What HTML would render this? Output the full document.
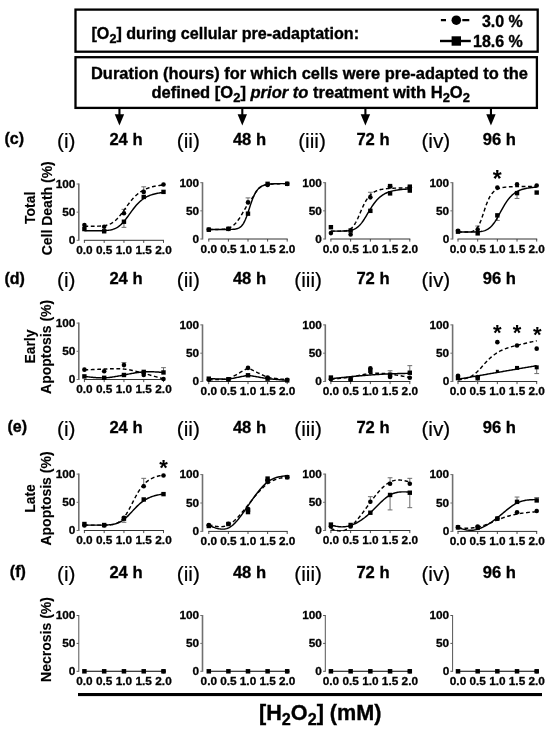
<!DOCTYPE html>
<html><head><meta charset="utf-8"><title>Figure</title>
<style>
html,body{margin:0;padding:0;background:#fff}
svg{display:block}
text{font-family:"Liberation Sans", sans-serif;fill:#000}
.tk{font-size:11.8px;font-weight:bold;stroke:#000;stroke-width:0.3px}
.b16{font-size:16px;font-weight:bold;stroke:#000;stroke-width:0.35px}
.b17{font-size:16.6px;font-weight:bold;stroke:#000;stroke-width:0.3px}
.b14{font-size:14px;font-weight:bold;stroke:#000;stroke-width:0.15px}
.b135{font-size:13.9px;font-weight:bold;stroke:#000;stroke-width:0.15px}
.b22{font-size:22px;font-weight:bold;stroke:#000;stroke-width:0.35px}
.r20{font-size:20.8px;stroke:#000;stroke-width:0.2px}
.sub{font-size:12.5px}
.sub22{font-size:16.5px}
</style></head><body>
<svg width="550" height="730" viewBox="0 0 550 730">
<rect width="550" height="730" fill="#fff"/>
<rect x="75.5" y="9.6" width="462.2" height="42.1" fill="#fff" stroke="#000" stroke-width="2.3"/>
<rect x="75.5" y="57.2" width="461.4" height="50.7" fill="#fff" stroke="#000" stroke-width="2.3"/>
<text x="91.5" y="39.0" class="b16" textLength="267.5" lengthAdjust="spacingAndGlyphs">[O<tspan class="sub" dy="3.5">2</tspan><tspan dy="-3.5">] during cellular pre-adaptation:</tspan></text>
<path d="M440.9,20.1 H446 M462.3,20.1 H469.3" stroke="#000" stroke-width="2.3"/>
<circle cx="456.3" cy="20.2" r="4.75" fill="#000"/>
<path d="M440,41 H470.8" stroke="#000" stroke-width="2.4"/>
<rect x="451.6" y="36.3" width="9.4" height="9.4" fill="#000"/>
<text x="522.8" y="26.7" text-anchor="end" class="b16">3.0 %</text>
<text x="522.8" y="46.7" text-anchor="end" class="b16">18.6 %</text>
<text x="91" y="78.6" class="b16" textLength="437" lengthAdjust="spacingAndGlyphs">Duration (hours) for which cells were pre-adapted to the</text>
<text x="151.4" y="98.3" class="b16" textLength="318.5" lengthAdjust="spacingAndGlyphs">defined [O<tspan class="sub" dy="3.5">2</tspan><tspan dy="-3.5">] </tspan><tspan font-style="italic">prior to</tspan> treatment with H<tspan class="sub" dy="3.5">2</tspan><tspan dy="-3.5">O</tspan><tspan class="sub" dy="3.5">2</tspan></text>
<path d="M119.45,108 V116" stroke="#000" stroke-width="2.1"/>
<path d="M114.75,114.2 H124.15 L119.45,125.6 Z" fill="#000"/>
<path d="M242.3,108 V116" stroke="#000" stroke-width="2.1"/>
<path d="M237.60000000000002,114.2 H247.0 L242.3,125.6 Z" fill="#000"/>
<path d="M365.4,108 V116" stroke="#000" stroke-width="2.1"/>
<path d="M360.7,114.2 H370.09999999999997 L365.4,125.6 Z" fill="#000"/>
<path d="M490.95,108 V116" stroke="#000" stroke-width="2.1"/>
<path d="M486.25,114.2 H495.65 L490.95,125.6 Z" fill="#000"/>
<text x="4.5" y="144.2" class="b16">(c)</text>
<text x="57.0" y="148.0" class="r20">(i)</text>
<text x="176.8" y="148.0" class="r20">(ii)</text>
<text x="298.2" y="148.0" class="r20">(iii)</text>
<text x="421.4" y="148.0" class="r20">(iv)</text>
<text x="126.0" y="145.2" text-anchor="middle" class="b17">24 h</text>
<text x="249.5" y="145.2" text-anchor="middle" class="b17">48 h</text>
<text x="373.0" y="145.2" text-anchor="middle" class="b17">72 h</text>
<text x="499.3" y="145.2" text-anchor="middle" class="b17">96 h</text>
<text x="4.5" y="283.5" class="b16">(d)</text>
<text x="57.0" y="286.8" class="r20">(i)</text>
<text x="176.8" y="286.8" class="r20">(ii)</text>
<text x="294.3" y="286.8" class="r20">(iii)</text>
<text x="421.4" y="286.8" class="r20">(iv)</text>
<text x="126.0" y="284.2" text-anchor="middle" class="b17">24 h</text>
<text x="249.5" y="284.2" text-anchor="middle" class="b17">48 h</text>
<text x="373.0" y="284.2" text-anchor="middle" class="b17">72 h</text>
<text x="499.3" y="284.2" text-anchor="middle" class="b17">96 h</text>
<text x="7.5" y="431.8" class="b16">(e)</text>
<text x="57.0" y="436.0" class="r20">(i)</text>
<text x="176.8" y="436.0" class="r20">(ii)</text>
<text x="294.3" y="436.0" class="r20">(iii)</text>
<text x="421.4" y="436.0" class="r20">(iv)</text>
<text x="126.0" y="433.0" text-anchor="middle" class="b17">24 h</text>
<text x="249.5" y="433.0" text-anchor="middle" class="b17">48 h</text>
<text x="373.0" y="433.0" text-anchor="middle" class="b17">72 h</text>
<text x="499.3" y="433.0" text-anchor="middle" class="b17">96 h</text>
<text x="9.8" y="577.2" class="b16">(f)</text>
<text x="57.0" y="581.4" class="r20">(i)</text>
<text x="176.8" y="581.4" class="r20">(ii)</text>
<text x="294.3" y="581.4" class="r20">(iii)</text>
<text x="421.4" y="581.4" class="r20">(iv)</text>
<text x="126.0" y="578.4" text-anchor="middle" class="b17">24 h</text>
<text x="249.5" y="578.4" text-anchor="middle" class="b17">48 h</text>
<text x="373.0" y="578.4" text-anchor="middle" class="b17">72 h</text>
<text x="499.3" y="578.4" text-anchor="middle" class="b17">96 h</text>
<text transform="translate(35.1,207.8) rotate(-90)" text-anchor="middle" class="b135">Total</text>
<text transform="translate(51.5,208.3) rotate(-90)" text-anchor="middle" class="b14">Cell Death (%)</text>
<text transform="translate(34.9,346.6) rotate(-90)" text-anchor="middle" class="b135">Early</text>
<text transform="translate(51.4,346.9) rotate(-90)" text-anchor="middle" class="b14">Apoptosis (%)</text>
<text transform="translate(35.2,498.5) rotate(-90)" text-anchor="middle" class="b135">Late</text>
<text transform="translate(51.4,498.5) rotate(-90)" text-anchor="middle" class="b14">Apoptosis (%)</text>
<text transform="translate(51.4,639.5) rotate(-90)" text-anchor="middle" class="b14">Necrosis (%)</text>
<line x1="78.80" y1="183.50" x2="78.80" y2="240.80" stroke="#707070" stroke-width="1.6"/>
<line x1="76.60" y1="184.00" x2="78.80" y2="184.00" stroke="#707070" stroke-width="1"/>
<text x="75.40" y="187.80" text-anchor="end" class="tk">100</text>
<line x1="76.60" y1="212.15" x2="78.80" y2="212.15" stroke="#707070" stroke-width="1"/>
<text x="75.40" y="215.95" text-anchor="end" class="tk">50</text>
<line x1="76.60" y1="240.30" x2="78.80" y2="240.30" stroke="#707070" stroke-width="1"/>
<text x="75.40" y="244.10" text-anchor="end" class="tk">0</text>
<line x1="83.90" y1="240.30" x2="164.00" y2="240.30" stroke="#333" stroke-width="1"/>
<line x1="84.40" y1="240.30" x2="84.40" y2="242.90" stroke="#333" stroke-width="0.9"/>
<line x1="104.18" y1="240.30" x2="104.18" y2="242.90" stroke="#333" stroke-width="0.9"/>
<line x1="123.95" y1="240.30" x2="123.95" y2="242.90" stroke="#333" stroke-width="0.9"/>
<line x1="143.72" y1="240.30" x2="143.72" y2="242.90" stroke="#333" stroke-width="0.9"/>
<line x1="163.50" y1="240.30" x2="163.50" y2="242.90" stroke="#333" stroke-width="0.9"/>
<text x="84.40" y="254.30" text-anchor="middle" class="tk">0.0</text>
<text x="104.18" y="254.30" text-anchor="middle" class="tk">0.5</text>
<text x="123.95" y="254.30" text-anchor="middle" class="tk">1.0</text>
<text x="143.72" y="254.30" text-anchor="middle" class="tk">1.5</text>
<text x="163.50" y="254.30" text-anchor="middle" class="tk">2.0</text>
<path d="M123.95,213.28 L123.95,209.34 M121.55,209.34 L126.35,209.34" stroke="#6c6c6c" stroke-width="1.0" fill="none"/>
<path d="M143.72,191.88 L143.72,186.81 M141.32,186.81 L146.12,186.81" stroke="#6c6c6c" stroke-width="1.0" fill="none"/>
<path d="M123.95,221.72 L123.95,227.35 M121.55,227.35 L126.35,227.35" stroke="#6c6c6c" stroke-width="1.0" fill="none"/>
<path d="M84.40,226.23 L85.40,226.22 L86.40,226.22 L87.40,226.22 L88.41,226.22 L89.41,226.22 L90.41,226.22 L91.41,226.22 L92.41,226.22 L93.41,226.22 L94.41,226.21 L95.41,226.20 L96.42,226.19 L97.42,226.17 L98.42,226.14 L99.42,226.10 L100.42,226.05 L101.42,225.98 L102.42,225.89 L103.42,225.78 L104.43,225.63 L105.43,225.45 L106.43,225.24 L107.43,224.97 L108.43,224.65 L109.43,224.27 L110.43,223.83 L111.43,223.31 L112.44,222.72 L113.44,222.05 L114.44,221.29 L115.44,220.45 L116.44,219.52 L117.44,218.50 L118.44,217.41 L119.44,216.24 L120.45,215.01 L121.45,213.71 L122.45,212.38 L123.45,211.01 L124.45,209.62 L125.45,208.22 L126.45,206.82 L127.45,205.44 L128.46,204.09 L129.46,202.78 L130.46,201.50 L131.46,200.28 L132.46,199.11 L133.46,198.01 L134.46,196.96 L135.46,195.97 L136.47,195.05 L137.47,194.18 L138.47,193.38 L139.47,192.63 L140.47,191.93 L141.47,191.29 L142.47,190.69 L143.47,190.14 L144.48,189.64 L145.48,189.17 L146.48,188.74 L147.48,188.35 L148.48,187.98 L149.48,187.65 L150.48,187.34 L151.48,187.06 L152.49,186.79 L153.49,186.55 L154.49,186.33 L155.49,186.13 L156.49,185.94 L157.49,185.77 L158.49,185.61 L159.49,185.46 L160.50,185.33 L161.50,185.20 L162.50,185.08 L163.50,184.98" fill="none" stroke="#000" stroke-width="1.45" stroke-dasharray="3.8 2.6" stroke-linejoin="round"/>
<path d="M84.40,230.73 L85.40,230.73 L86.40,230.73 L87.40,230.73 L88.41,230.73 L89.41,230.73 L90.41,230.73 L91.41,230.73 L92.41,230.73 L93.41,230.73 L94.41,230.73 L95.41,230.73 L96.42,230.72 L97.42,230.72 L98.42,230.71 L99.42,230.71 L100.42,230.69 L101.42,230.68 L102.42,230.66 L103.42,230.63 L104.43,230.58 L105.43,230.53 L106.43,230.46 L107.43,230.37 L108.43,230.26 L109.43,230.12 L110.43,229.94 L111.43,229.73 L112.44,229.47 L113.44,229.16 L114.44,228.80 L115.44,228.37 L116.44,227.86 L117.44,227.29 L118.44,226.62 L119.44,225.88 L120.45,225.04 L121.45,224.12 L122.45,223.11 L123.45,222.01 L124.45,220.84 L125.45,219.60 L126.45,218.31 L127.45,216.96 L128.46,215.59 L129.46,214.20 L130.46,212.81 L131.46,211.43 L132.46,210.07 L133.46,208.75 L134.46,207.47 L135.46,206.25 L136.47,205.08 L137.47,203.98 L138.47,202.94 L139.47,201.97 L140.47,201.07 L141.47,200.23 L142.47,199.46 L143.47,198.75 L144.48,198.09 L145.48,197.49 L146.48,196.94 L147.48,196.43 L148.48,195.97 L149.48,195.55 L150.48,195.17 L151.48,194.82 L152.49,194.51 L153.49,194.22 L154.49,193.95 L155.49,193.72 L156.49,193.50 L157.49,193.30 L158.49,193.12 L159.49,192.95 L160.50,192.80 L161.50,192.66 L162.50,192.54 L163.50,192.42" fill="none" stroke="#000" stroke-width="1.45" stroke-linejoin="round"/>
<circle cx="84.40" cy="225.10" r="2.3" fill="#000"/>
<circle cx="104.18" cy="226.79" r="2.3" fill="#000"/>
<circle cx="123.95" cy="213.28" r="2.3" fill="#000"/>
<circle cx="143.72" cy="191.88" r="2.3" fill="#000"/>
<circle cx="163.50" cy="184.56" r="2.3" fill="#000"/>
<rect x="82.20" y="226.84" width="4.4" height="4.4" fill="#000"/>
<rect x="101.98" y="229.09" width="4.4" height="4.4" fill="#000"/>
<rect x="121.75" y="219.52" width="4.4" height="4.4" fill="#000"/>
<rect x="141.53" y="194.75" width="4.4" height="4.4" fill="#000"/>
<rect x="161.30" y="189.68" width="4.4" height="4.4" fill="#000"/>
<line x1="202.50" y1="182.20" x2="202.50" y2="239.50" stroke="#707070" stroke-width="1.6"/>
<line x1="200.30" y1="182.70" x2="202.50" y2="182.70" stroke="#707070" stroke-width="1"/>
<text x="199.10" y="186.50" text-anchor="end" class="tk">100</text>
<line x1="200.30" y1="210.85" x2="202.50" y2="210.85" stroke="#707070" stroke-width="1"/>
<text x="199.10" y="214.65" text-anchor="end" class="tk">50</text>
<line x1="200.30" y1="239.00" x2="202.50" y2="239.00" stroke="#707070" stroke-width="1"/>
<text x="199.10" y="242.80" text-anchor="end" class="tk">0</text>
<line x1="208.30" y1="239.00" x2="287.70" y2="239.00" stroke="#333" stroke-width="1"/>
<line x1="208.80" y1="239.00" x2="208.80" y2="241.60" stroke="#333" stroke-width="0.9"/>
<line x1="228.40" y1="239.00" x2="228.40" y2="241.60" stroke="#333" stroke-width="0.9"/>
<line x1="248.00" y1="239.00" x2="248.00" y2="241.60" stroke="#333" stroke-width="0.9"/>
<line x1="267.60" y1="239.00" x2="267.60" y2="241.60" stroke="#333" stroke-width="0.9"/>
<line x1="287.20" y1="239.00" x2="287.20" y2="241.60" stroke="#333" stroke-width="0.9"/>
<text x="208.80" y="253.00" text-anchor="middle" class="tk">0.0</text>
<text x="228.40" y="253.00" text-anchor="middle" class="tk">0.5</text>
<text x="248.00" y="253.00" text-anchor="middle" class="tk">1.0</text>
<text x="267.60" y="253.00" text-anchor="middle" class="tk">1.5</text>
<text x="287.20" y="253.00" text-anchor="middle" class="tk">2.0</text>
<path d="M248.00,202.41 L248.00,197.90 M245.60,197.90 L250.40,197.90" stroke="#6c6c6c" stroke-width="1.0" fill="none"/>
<path d="M208.80,229.43 L209.79,229.43 L210.78,229.43 L211.78,229.43 L212.77,229.43 L213.76,229.43 L214.75,229.43 L215.75,229.42 L216.74,229.42 L217.73,229.41 L218.72,229.40 L219.72,229.38 L220.71,229.35 L221.70,229.30 L222.69,229.24 L223.69,229.15 L224.68,229.03 L225.67,228.88 L226.66,228.68 L227.66,228.43 L228.65,228.11 L229.64,227.72 L230.63,227.24 L231.63,226.67 L232.62,226.00 L233.61,225.21 L234.60,224.31 L235.59,223.29 L236.59,222.15 L237.58,220.89 L238.57,219.51 L239.56,218.04 L240.56,216.48 L241.55,214.85 L242.54,213.17 L243.53,211.46 L244.53,209.74 L245.52,208.03 L246.51,206.35 L247.50,204.72 L248.50,203.14 L249.49,201.63 L250.48,200.20 L251.47,198.86 L252.47,197.59 L253.46,196.42 L254.45,194.67 L255.44,192.80 L256.44,191.21 L257.43,189.87 L258.42,188.75 L259.41,187.83 L260.41,187.07 L261.40,186.44 L262.39,185.93 L263.38,185.51 L264.37,185.17 L265.37,184.89 L266.36,184.66 L267.35,184.48 L268.34,184.32 L269.34,184.19 L270.33,184.09 L271.32,184.00 L272.31,183.93 L273.31,183.87 L274.30,183.82 L275.29,183.78 L276.28,183.74 L277.28,183.71 L278.27,183.69 L279.26,183.67 L280.25,183.65 L281.25,183.64 L282.24,183.62 L283.23,183.61 L284.22,183.60 L285.22,183.60 L286.21,183.59 L287.20,183.58" fill="none" stroke="#000" stroke-width="1.45" stroke-dasharray="3.8 2.6" stroke-linejoin="round"/>
<path d="M208.80,229.43 L209.79,229.43 L210.78,229.43 L211.78,229.43 L212.77,229.43 L213.76,229.43 L214.75,229.43 L215.75,229.43 L216.74,229.43 L217.73,229.43 L218.72,229.43 L219.72,229.43 L220.71,229.43 L221.70,229.43 L222.69,229.43 L223.69,229.43 L224.68,229.43 L225.67,229.43 L226.66,229.42 L227.66,229.42 L228.65,229.41 L229.64,229.40 L230.63,229.39 L231.63,229.36 L232.62,229.32 L233.61,229.25 L234.60,229.16 L235.59,229.02 L236.59,228.83 L237.58,228.55 L238.57,228.16 L239.56,227.64 L240.56,226.93 L241.55,225.99 L242.54,224.79 L243.53,223.29 L244.53,221.44 L245.52,219.26 L246.51,216.75 L247.50,213.97 L248.50,211.00 L249.49,207.94 L250.48,204.90 L251.47,201.99 L252.47,199.28 L253.46,196.83 L254.45,194.67 L255.44,192.80 L256.44,191.21 L257.43,189.87 L258.42,188.75 L259.41,187.83 L260.41,187.07 L261.40,186.44 L262.39,185.93 L263.38,185.51 L264.37,185.17 L265.37,184.89 L266.36,184.66 L267.35,184.48 L268.34,184.32 L269.34,184.19 L270.33,184.09 L271.32,184.00 L272.31,183.93 L273.31,183.87 L274.30,183.82 L275.29,183.78 L276.28,183.74 L277.28,183.71 L278.27,183.69 L279.26,183.67 L280.25,183.65 L281.25,183.64 L282.24,183.62 L283.23,183.61 L284.22,183.60 L285.22,183.60 L286.21,183.59 L287.20,183.58" fill="none" stroke="#000" stroke-width="1.45" stroke-linejoin="round"/>
<circle cx="208.80" cy="229.43" r="2.3" fill="#000"/>
<circle cx="228.40" cy="228.87" r="2.3" fill="#000"/>
<circle cx="248.00" cy="202.41" r="2.3" fill="#000"/>
<circle cx="267.60" cy="184.95" r="2.3" fill="#000"/>
<circle cx="287.20" cy="183.83" r="2.3" fill="#000"/>
<rect x="206.60" y="227.51" width="4.4" height="4.4" fill="#000"/>
<rect x="226.20" y="226.67" width="4.4" height="4.4" fill="#000"/>
<rect x="245.80" y="211.47" width="4.4" height="4.4" fill="#000"/>
<rect x="265.40" y="181.63" width="4.4" height="4.4" fill="#000"/>
<rect x="285.00" y="181.63" width="4.4" height="4.4" fill="#000"/>
<line x1="325.30" y1="182.20" x2="325.30" y2="239.50" stroke="#707070" stroke-width="1.6"/>
<line x1="323.10" y1="182.70" x2="325.30" y2="182.70" stroke="#707070" stroke-width="1"/>
<text x="321.90" y="186.50" text-anchor="end" class="tk">100</text>
<line x1="323.10" y1="210.85" x2="325.30" y2="210.85" stroke="#707070" stroke-width="1"/>
<text x="321.90" y="214.65" text-anchor="end" class="tk">50</text>
<line x1="323.10" y1="239.00" x2="325.30" y2="239.00" stroke="#707070" stroke-width="1"/>
<text x="321.90" y="242.80" text-anchor="end" class="tk">0</text>
<line x1="330.40" y1="239.00" x2="410.30" y2="239.00" stroke="#333" stroke-width="1"/>
<line x1="330.90" y1="239.00" x2="330.90" y2="241.60" stroke="#333" stroke-width="0.9"/>
<line x1="350.62" y1="239.00" x2="350.62" y2="241.60" stroke="#333" stroke-width="0.9"/>
<line x1="370.35" y1="239.00" x2="370.35" y2="241.60" stroke="#333" stroke-width="0.9"/>
<line x1="390.07" y1="239.00" x2="390.07" y2="241.60" stroke="#333" stroke-width="0.9"/>
<line x1="409.80" y1="239.00" x2="409.80" y2="241.60" stroke="#333" stroke-width="0.9"/>
<text x="330.90" y="253.00" text-anchor="middle" class="tk">0.0</text>
<text x="350.62" y="253.00" text-anchor="middle" class="tk">0.5</text>
<text x="370.35" y="253.00" text-anchor="middle" class="tk">1.0</text>
<text x="390.07" y="253.00" text-anchor="middle" class="tk">1.5</text>
<text x="409.80" y="253.00" text-anchor="middle" class="tk">2.0</text>
<path d="M370.35,197.34 L370.35,192.27 M367.95,192.27 L372.75,192.27" stroke="#6c6c6c" stroke-width="1.0" fill="none"/>
<path d="M330.90,231.12 L331.90,231.12 L332.90,231.12 L333.90,231.12 L334.89,231.12 L335.89,231.12 L336.89,231.12 L337.89,231.12 L338.89,231.11 L339.89,231.10 L340.89,231.09 L341.89,231.06 L342.88,231.02 L343.88,230.96 L344.88,230.86 L345.88,230.72 L346.88,230.51 L347.88,230.23 L348.88,229.84 L349.88,229.32 L350.87,228.65 L351.87,227.80 L352.87,226.75 L353.87,225.48 L354.87,223.98 L355.87,222.25 L356.87,220.32 L357.87,218.21 L358.86,215.97 L359.86,213.65 L360.86,211.31 L361.86,209.01 L362.86,206.79 L363.86,204.68 L364.86,202.73 L365.86,200.94 L366.85,199.32 L367.85,197.88 L368.85,196.60 L369.85,195.47 L370.85,194.48 L371.85,193.62 L372.85,192.87 L373.85,192.22 L374.84,191.66 L375.84,191.17 L376.84,190.75 L377.84,190.38 L378.84,190.07 L379.84,189.79 L380.84,189.55 L381.84,189.35 L382.83,189.16 L383.83,189.01 L384.83,188.87 L385.83,188.75 L386.83,188.64 L387.83,188.55 L388.83,188.47 L389.83,188.39 L390.82,188.33 L391.82,188.27 L392.82,188.22 L393.82,188.18 L394.82,188.14 L395.82,188.10 L396.82,188.07 L397.82,188.04 L398.81,188.02 L399.81,188.00 L400.81,187.98 L401.81,187.96 L402.81,187.94 L403.81,187.93 L404.81,187.91 L405.81,187.90 L406.80,187.89 L407.80,187.88 L408.80,187.87 L409.80,187.86" fill="none" stroke="#000" stroke-width="1.45" stroke-dasharray="3.8 2.6" stroke-linejoin="round"/>
<path d="M330.90,231.12 L331.90,231.12 L332.90,231.12 L333.90,231.12 L334.89,231.12 L335.89,231.12 L336.89,231.12 L337.89,231.12 L338.89,231.11 L339.89,231.11 L340.89,231.11 L341.89,231.10 L342.88,231.08 L343.88,231.06 L344.88,231.03 L345.88,230.98 L346.88,230.92 L347.88,230.83 L348.88,230.71 L349.88,230.56 L350.87,230.37 L351.87,230.12 L352.87,229.80 L353.87,229.42 L354.87,228.95 L355.87,228.38 L356.87,227.72 L357.87,226.94 L358.86,226.04 L359.86,225.02 L360.86,223.87 L361.86,222.61 L362.86,221.24 L363.86,219.77 L364.86,218.21 L365.86,216.59 L366.85,214.93 L367.85,213.24 L368.85,211.56 L369.85,209.90 L370.85,208.27 L371.85,206.71 L372.85,205.21 L373.85,203.79 L374.84,202.46 L375.84,201.21 L376.84,200.05 L377.84,198.99 L378.84,198.01 L379.84,197.11 L380.84,196.30 L381.84,195.56 L382.83,194.88 L383.83,194.27 L384.83,193.72 L385.83,193.23 L386.83,192.78 L387.83,192.37 L388.83,192.00 L389.83,191.67 L390.82,191.38 L391.82,191.11 L392.82,190.86 L393.82,190.64 L394.82,190.45 L395.82,190.27 L396.82,190.10 L397.82,189.96 L398.81,189.82 L399.81,189.70 L400.81,189.59 L401.81,189.49 L402.81,189.40 L403.81,189.32 L404.81,189.24 L405.81,189.17 L406.80,189.11 L407.80,189.05 L408.80,189.00 L409.80,188.95" fill="none" stroke="#000" stroke-width="1.45" stroke-linejoin="round"/>
<circle cx="330.90" cy="233.09" r="2.3" fill="#000"/>
<circle cx="350.62" cy="234.50" r="2.3" fill="#000"/>
<circle cx="370.35" cy="197.34" r="2.3" fill="#000"/>
<circle cx="390.07" cy="186.36" r="2.3" fill="#000"/>
<circle cx="409.80" cy="187.20" r="2.3" fill="#000"/>
<rect x="328.70" y="224.98" width="4.4" height="4.4" fill="#000"/>
<rect x="348.43" y="228.36" width="4.4" height="4.4" fill="#000"/>
<rect x="368.15" y="208.65" width="4.4" height="4.4" fill="#000"/>
<rect x="387.88" y="191.20" width="4.4" height="4.4" fill="#000"/>
<rect x="387.88" y="183.88" width="4.4" height="4.4" fill="#000"/>
<rect x="407.60" y="188.38" width="4.4" height="4.4" fill="#000"/>
<rect x="407.60" y="184.44" width="4.4" height="4.4" fill="#000"/>
<line x1="452.60" y1="182.20" x2="452.60" y2="239.50" stroke="#707070" stroke-width="1.6"/>
<line x1="450.40" y1="182.70" x2="452.60" y2="182.70" stroke="#707070" stroke-width="1"/>
<text x="449.20" y="186.50" text-anchor="end" class="tk">100</text>
<line x1="450.40" y1="210.85" x2="452.60" y2="210.85" stroke="#707070" stroke-width="1"/>
<text x="449.20" y="214.65" text-anchor="end" class="tk">50</text>
<line x1="450.40" y1="239.00" x2="452.60" y2="239.00" stroke="#707070" stroke-width="1"/>
<text x="449.20" y="242.80" text-anchor="end" class="tk">0</text>
<line x1="457.50" y1="239.00" x2="537.20" y2="239.00" stroke="#333" stroke-width="1"/>
<line x1="458.00" y1="239.00" x2="458.00" y2="241.60" stroke="#333" stroke-width="0.9"/>
<line x1="477.68" y1="239.00" x2="477.68" y2="241.60" stroke="#333" stroke-width="0.9"/>
<line x1="497.35" y1="239.00" x2="497.35" y2="241.60" stroke="#333" stroke-width="0.9"/>
<line x1="517.03" y1="239.00" x2="517.03" y2="241.60" stroke="#333" stroke-width="0.9"/>
<line x1="536.70" y1="239.00" x2="536.70" y2="241.60" stroke="#333" stroke-width="0.9"/>
<text x="458.00" y="253.00" text-anchor="middle" class="tk">0.0</text>
<text x="477.68" y="253.00" text-anchor="middle" class="tk">0.5</text>
<text x="497.35" y="253.00" text-anchor="middle" class="tk">1.0</text>
<text x="517.03" y="253.00" text-anchor="middle" class="tk">1.5</text>
<text x="536.70" y="253.00" text-anchor="middle" class="tk">2.0</text>
<path d="M477.68,229.43 L477.68,226.05 M475.28,226.05 L480.07,226.05" stroke="#6c6c6c" stroke-width="1.0" fill="none"/>
<path d="M497.35,215.35 L497.35,220.42 M494.95,220.42 L499.75,220.42" stroke="#6c6c6c" stroke-width="1.0" fill="none"/>
<path d="M517.03,193.12 L517.03,198.46 M514.63,198.46 L519.43,198.46" stroke="#6c6c6c" stroke-width="1.0" fill="none"/>
<path d="M458.00,231.96 L459.00,231.96 L459.99,231.96 L460.99,231.96 L461.98,231.96 L462.98,231.96 L463.98,231.96 L464.97,231.96 L465.97,231.95 L466.97,231.94 L467.96,231.92 L468.96,231.87 L469.95,231.80 L470.95,231.68 L471.95,231.49 L472.94,231.20 L473.94,230.78 L474.94,230.18 L475.93,229.35 L476.93,228.25 L477.92,226.83 L478.92,225.05 L479.92,222.92 L480.91,220.45 L481.91,217.71 L482.91,214.77 L483.90,211.75 L484.90,208.75 L485.89,205.87 L486.89,203.19 L487.89,200.75 L488.88,198.59 L489.88,196.71 L490.87,195.09 L491.87,193.71 L492.87,192.54 L493.86,191.56 L494.86,190.74 L495.86,190.05 L496.85,189.48 L497.85,189.00 L498.84,188.61 L499.84,188.27 L500.84,187.99 L501.83,187.76 L502.83,187.56 L503.83,187.39 L504.82,187.25 L505.82,187.13 L506.81,187.03 L507.81,186.94 L508.81,186.87 L509.80,186.80 L510.80,186.75 L511.79,186.70 L512.79,186.66 L513.79,186.62 L514.78,186.59 L515.78,186.57 L516.78,186.54 L517.77,186.52 L518.77,186.51 L519.76,186.49 L520.76,186.48 L521.76,186.46 L522.75,186.45 L523.75,186.44 L524.75,186.44 L525.74,186.43 L526.74,186.42 L527.73,186.42 L528.73,186.41 L529.73,186.41 L530.72,186.40 L531.72,186.40 L532.72,186.39 L533.71,186.39 L534.71,186.39 L535.70,186.39 L536.70,186.38" fill="none" stroke="#000" stroke-width="1.45" stroke-dasharray="3.8 2.6" stroke-linejoin="round"/>
<path d="M458.00,231.96 L459.00,231.96 L459.99,231.96 L460.99,231.96 L461.98,231.96 L462.98,231.96 L463.98,231.96 L464.97,231.96 L465.97,231.96 L466.97,231.96 L467.96,231.96 L468.96,231.96 L469.95,231.96 L470.95,231.95 L471.95,231.95 L472.94,231.94 L473.94,231.93 L474.94,231.91 L475.93,231.88 L476.93,231.84 L477.92,231.79 L478.92,231.72 L479.92,231.62 L480.91,231.50 L481.91,231.34 L482.91,231.14 L483.90,230.88 L484.90,230.57 L485.89,230.18 L486.89,229.71 L487.89,229.14 L488.88,228.47 L489.88,227.68 L490.87,226.77 L491.87,225.73 L492.87,224.55 L493.86,223.25 L494.86,221.81 L495.86,220.27 L496.85,218.62 L497.85,216.88 L498.84,215.09 L499.84,213.26 L500.84,211.42 L501.83,209.60 L502.83,207.80 L503.83,206.07 L504.82,204.40 L505.82,202.82 L506.81,201.34 L507.81,199.95 L508.81,198.67 L509.80,197.48 L510.80,196.40 L511.79,195.41 L512.79,194.52 L513.79,193.71 L514.78,192.97 L515.78,192.32 L516.78,191.72 L517.77,191.19 L518.77,190.71 L519.76,190.28 L520.76,189.90 L521.76,189.56 L522.75,189.25 L523.75,188.97 L524.75,188.73 L525.74,188.50 L526.74,188.30 L527.73,188.12 L528.73,187.96 L529.73,187.82 L530.72,187.69 L531.72,187.57 L532.72,187.47 L533.71,187.37 L534.71,187.28 L535.70,187.20 L536.70,187.13" fill="none" stroke="#000" stroke-width="1.45" stroke-linejoin="round"/>
<circle cx="458.00" cy="230.84" r="2.3" fill="#000"/>
<circle cx="477.68" cy="229.43" r="2.3" fill="#000"/>
<circle cx="497.35" cy="187.49" r="2.3" fill="#000"/>
<circle cx="517.03" cy="184.39" r="2.3" fill="#000"/>
<circle cx="536.70" cy="185.51" r="2.3" fill="#000"/>
<rect x="455.80" y="229.48" width="4.4" height="4.4" fill="#000"/>
<rect x="475.48" y="231.17" width="4.4" height="4.4" fill="#000"/>
<rect x="495.15" y="213.15" width="4.4" height="4.4" fill="#000"/>
<rect x="514.83" y="190.92" width="4.4" height="4.4" fill="#000"/>
<rect x="534.50" y="190.35" width="4.4" height="4.4" fill="#000"/>
<text x="497.35" y="186.92" text-anchor="middle" font-size="23" font-weight="bold">*</text>
<line x1="78.80" y1="322.60" x2="78.80" y2="380.00" stroke="#707070" stroke-width="1.6"/>
<line x1="76.60" y1="323.10" x2="78.80" y2="323.10" stroke="#707070" stroke-width="1"/>
<text x="75.40" y="326.90" text-anchor="end" class="tk">100</text>
<line x1="76.60" y1="351.30" x2="78.80" y2="351.30" stroke="#707070" stroke-width="1"/>
<text x="75.40" y="355.10" text-anchor="end" class="tk">50</text>
<line x1="76.60" y1="379.50" x2="78.80" y2="379.50" stroke="#707070" stroke-width="1"/>
<text x="75.40" y="383.30" text-anchor="end" class="tk">0</text>
<line x1="83.90" y1="379.50" x2="164.00" y2="379.50" stroke="#333" stroke-width="1"/>
<line x1="84.40" y1="379.50" x2="84.40" y2="382.10" stroke="#333" stroke-width="0.9"/>
<line x1="104.18" y1="379.50" x2="104.18" y2="382.10" stroke="#333" stroke-width="0.9"/>
<line x1="123.95" y1="379.50" x2="123.95" y2="382.10" stroke="#333" stroke-width="0.9"/>
<line x1="143.72" y1="379.50" x2="143.72" y2="382.10" stroke="#333" stroke-width="0.9"/>
<line x1="163.50" y1="379.50" x2="163.50" y2="382.10" stroke="#333" stroke-width="0.9"/>
<text x="84.40" y="392.70" text-anchor="middle" class="tk">0.0</text>
<text x="104.18" y="392.70" text-anchor="middle" class="tk">0.5</text>
<text x="123.95" y="392.70" text-anchor="middle" class="tk">1.0</text>
<text x="143.72" y="392.70" text-anchor="middle" class="tk">1.5</text>
<text x="163.50" y="392.70" text-anchor="middle" class="tk">2.0</text>
<path d="M163.50,372.45 L163.50,367.66 M161.10,367.66 L165.90,367.66" stroke="#6c6c6c" stroke-width="1.0" fill="none"/>
<path d="M123.95,365.12 L123.95,362.58 M121.55,362.58 L126.35,362.58" stroke="#6c6c6c" stroke-width="1.0" fill="none"/>
<path d="M84.40,369.91 L85.40,369.87 L86.40,369.83 L87.40,369.79 L88.41,369.75 L89.41,369.71 L90.41,369.67 L91.41,369.63 L92.41,369.59 L93.41,369.54 L94.41,369.50 L95.41,369.46 L96.42,369.42 L97.42,369.37 L98.42,369.33 L99.42,369.29 L100.42,369.24 L101.42,369.20 L102.42,369.15 L103.42,369.10 L104.43,369.05 L105.43,369.01 L106.43,368.96 L107.43,368.91 L108.43,368.87 L109.43,368.82 L110.43,368.79 L111.43,368.75 L112.44,368.72 L113.44,368.70 L114.44,368.69 L115.44,368.68 L116.44,368.68 L117.44,368.69 L118.44,368.72 L119.44,368.75 L120.45,368.80 L121.45,368.86 L122.45,368.93 L123.45,369.02 L124.45,369.12 L125.45,369.24 L126.45,369.37 L127.45,369.52 L128.46,369.68 L129.46,369.86 L130.46,370.05 L131.46,370.24 L132.46,370.45 L133.46,370.67 L134.46,370.90 L135.46,371.13 L136.47,371.38 L137.47,371.63 L138.47,371.88 L139.47,372.14 L140.47,372.41 L141.47,372.68 L142.47,372.95 L143.47,373.23 L144.48,373.50 L145.48,373.78 L146.48,374.06 L147.48,374.34 L148.48,374.62 L149.48,374.91 L150.48,375.19 L151.48,375.47 L152.49,375.76 L153.49,376.05 L154.49,376.33 L155.49,376.62 L156.49,376.91 L157.49,377.20 L158.49,377.49 L159.49,377.78 L160.50,378.07 L161.50,378.36 L162.50,378.65 L163.50,378.94" fill="none" stroke="#000" stroke-width="1.45" stroke-dasharray="3.8 2.6" stroke-linejoin="round"/>
<path d="M84.40,376.40 L85.40,376.52 L86.40,376.65 L87.40,376.77 L88.41,376.89 L89.41,377.00 L90.41,377.12 L91.41,377.22 L92.41,377.32 L93.41,377.42 L94.41,377.51 L95.41,377.59 L96.42,377.66 L97.42,377.72 L98.42,377.77 L99.42,377.81 L100.42,377.83 L101.42,377.85 L102.42,377.84 L103.42,377.83 L104.43,377.80 L105.43,377.75 L106.43,377.69 L107.43,377.61 L108.43,377.53 L109.43,377.42 L110.43,377.31 L111.43,377.18 L112.44,377.05 L113.44,376.90 L114.44,376.75 L115.44,376.58 L116.44,376.41 L117.44,376.24 L118.44,376.06 L119.44,375.87 L120.45,375.68 L121.45,375.48 L122.45,375.29 L123.45,375.09 L124.45,374.89 L125.45,374.69 L126.45,374.49 L127.45,374.29 L128.46,374.09 L129.46,373.90 L130.46,373.71 L131.46,373.52 L132.46,373.34 L133.46,373.17 L134.46,373.00 L135.46,372.84 L136.47,372.69 L137.47,372.54 L138.47,372.41 L139.47,372.28 L140.47,372.17 L141.47,372.07 L142.47,371.98 L143.47,371.90 L144.48,371.84 L145.48,371.79 L146.48,371.76 L147.48,371.74 L148.48,371.72 L149.48,371.72 L150.48,371.73 L151.48,371.75 L152.49,371.78 L153.49,371.82 L154.49,371.86 L155.49,371.91 L156.49,371.96 L157.49,372.02 L158.49,372.09 L159.49,372.16 L160.50,372.23 L161.50,372.30 L162.50,372.37 L163.50,372.45" fill="none" stroke="#000" stroke-width="1.45" stroke-linejoin="round"/>
<circle cx="84.40" cy="369.63" r="2.3" fill="#000"/>
<circle cx="104.18" cy="371.32" r="2.3" fill="#000"/>
<circle cx="123.95" cy="365.12" r="2.3" fill="#000"/>
<circle cx="143.72" cy="374.99" r="2.3" fill="#000"/>
<circle cx="163.50" cy="378.94" r="2.3" fill="#000"/>
<rect x="82.20" y="374.20" width="4.4" height="4.4" fill="#000"/>
<rect x="101.98" y="375.61" width="4.4" height="4.4" fill="#000"/>
<rect x="121.75" y="372.79" width="4.4" height="4.4" fill="#000"/>
<rect x="141.53" y="369.69" width="4.4" height="4.4" fill="#000"/>
<rect x="161.30" y="370.25" width="4.4" height="4.4" fill="#000"/>
<line x1="202.50" y1="324.40" x2="202.50" y2="382.00" stroke="#707070" stroke-width="1.6"/>
<line x1="200.30" y1="324.90" x2="202.50" y2="324.90" stroke="#707070" stroke-width="1"/>
<text x="199.10" y="328.70" text-anchor="end" class="tk">100</text>
<line x1="200.30" y1="353.20" x2="202.50" y2="353.20" stroke="#707070" stroke-width="1"/>
<text x="199.10" y="357.00" text-anchor="end" class="tk">50</text>
<line x1="200.30" y1="381.50" x2="202.50" y2="381.50" stroke="#707070" stroke-width="1"/>
<text x="199.10" y="385.30" text-anchor="end" class="tk">0</text>
<line x1="208.30" y1="381.50" x2="287.70" y2="381.50" stroke="#333" stroke-width="1"/>
<line x1="208.80" y1="381.50" x2="208.80" y2="384.10" stroke="#333" stroke-width="0.9"/>
<line x1="228.40" y1="381.50" x2="228.40" y2="384.10" stroke="#333" stroke-width="0.9"/>
<line x1="248.00" y1="381.50" x2="248.00" y2="384.10" stroke="#333" stroke-width="0.9"/>
<line x1="267.60" y1="381.50" x2="267.60" y2="384.10" stroke="#333" stroke-width="0.9"/>
<line x1="287.20" y1="381.50" x2="287.20" y2="384.10" stroke="#333" stroke-width="0.9"/>
<text x="208.80" y="394.70" text-anchor="middle" class="tk">0.0</text>
<text x="228.40" y="394.70" text-anchor="middle" class="tk">0.5</text>
<text x="248.00" y="394.70" text-anchor="middle" class="tk">1.0</text>
<text x="267.60" y="394.70" text-anchor="middle" class="tk">1.5</text>
<text x="287.20" y="394.70" text-anchor="middle" class="tk">2.0</text>
<path d="M208.80,379.80 L209.79,379.77 L210.78,379.74 L211.78,379.72 L212.77,379.69 L213.76,379.66 L214.75,379.63 L215.75,379.60 L216.74,379.57 L217.73,379.54 L218.72,379.52 L219.72,379.49 L220.71,379.46 L221.70,379.43 L222.69,379.40 L223.69,379.37 L224.68,379.34 L225.67,379.31 L226.66,379.29 L227.66,379.26 L228.65,379.09 L229.64,378.52 L230.63,377.95 L231.63,377.37 L232.62,376.80 L233.61,376.23 L234.60,375.65 L235.59,375.08 L236.59,374.51 L237.58,373.93 L238.57,373.36 L239.56,372.79 L240.56,372.21 L241.55,371.64 L242.54,371.07 L243.53,370.50 L244.53,369.92 L245.52,369.35 L246.51,368.78 L247.50,368.20 L248.50,368.16 L249.49,368.65 L250.48,369.13 L251.47,369.62 L252.47,370.11 L253.46,370.60 L254.45,371.08 L255.44,371.57 L256.44,372.06 L257.43,372.54 L258.42,373.03 L259.41,373.52 L260.41,374.01 L261.40,374.49 L262.39,374.98 L263.38,375.47 L264.37,375.95 L265.37,376.44 L266.36,376.93 L267.35,377.42 L268.34,377.62 L269.34,377.74 L270.33,377.85 L271.32,377.97 L272.31,378.08 L273.31,378.20 L274.30,378.31 L275.29,378.43 L276.28,378.54 L277.28,378.66 L278.27,378.77 L279.26,378.88 L280.25,379.00 L281.25,379.11 L282.24,379.23 L283.23,379.34 L284.22,379.46 L285.22,379.57 L286.21,379.69 L287.20,379.80" fill="none" stroke="#000" stroke-width="1.45" stroke-dasharray="3.8 2.6" stroke-linejoin="round"/>
<path d="M208.80,378.67 L209.79,378.70 L210.78,378.73 L211.78,378.76 L212.77,378.78 L213.76,378.81 L214.75,378.84 L215.75,378.87 L216.74,378.90 L217.73,378.93 L218.72,378.96 L219.72,378.99 L220.71,379.01 L221.70,379.04 L222.69,379.07 L223.69,379.10 L224.68,379.13 L225.67,379.16 L226.66,379.19 L227.66,379.21 L228.65,379.19 L229.64,378.99 L230.63,378.78 L231.63,378.58 L232.62,378.38 L233.61,378.18 L234.60,377.98 L235.59,377.78 L236.59,377.58 L237.58,377.38 L238.57,377.18 L239.56,376.98 L240.56,376.78 L241.55,376.58 L242.54,376.38 L243.53,376.18 L244.53,375.98 L245.52,375.78 L246.51,375.57 L247.50,375.37 L248.50,375.36 L249.49,375.53 L250.48,375.70 L251.47,375.88 L252.47,376.05 L253.46,376.22 L254.45,376.39 L255.44,376.56 L256.44,376.74 L257.43,376.91 L258.42,377.08 L259.41,377.25 L260.41,377.42 L261.40,377.60 L262.39,377.77 L263.38,377.94 L264.37,378.11 L265.37,378.28 L266.36,378.46 L267.35,378.63 L268.34,378.73 L269.34,378.82 L270.33,378.91 L271.32,378.99 L272.31,379.08 L273.31,379.16 L274.30,379.25 L275.29,379.34 L276.28,379.42 L277.28,379.51 L278.27,379.59 L279.26,379.68 L280.25,379.77 L281.25,379.85 L282.24,379.94 L283.23,380.02 L284.22,380.11 L285.22,380.20 L286.21,380.28 L287.20,380.37" fill="none" stroke="#000" stroke-width="1.45" stroke-linejoin="round"/>
<circle cx="208.80" cy="379.80" r="2.3" fill="#000"/>
<circle cx="228.40" cy="379.24" r="2.3" fill="#000"/>
<circle cx="248.00" cy="367.92" r="2.3" fill="#000"/>
<circle cx="267.60" cy="377.54" r="2.3" fill="#000"/>
<circle cx="287.20" cy="379.80" r="2.3" fill="#000"/>
<rect x="206.60" y="376.47" width="4.4" height="4.4" fill="#000"/>
<rect x="226.20" y="377.04" width="4.4" height="4.4" fill="#000"/>
<rect x="245.80" y="373.07" width="4.4" height="4.4" fill="#000"/>
<rect x="265.40" y="376.47" width="4.4" height="4.4" fill="#000"/>
<rect x="285.00" y="378.17" width="4.4" height="4.4" fill="#000"/>
<line x1="325.30" y1="324.40" x2="325.30" y2="382.00" stroke="#707070" stroke-width="1.6"/>
<line x1="323.10" y1="324.90" x2="325.30" y2="324.90" stroke="#707070" stroke-width="1"/>
<text x="321.90" y="328.70" text-anchor="end" class="tk">100</text>
<line x1="323.10" y1="353.20" x2="325.30" y2="353.20" stroke="#707070" stroke-width="1"/>
<text x="321.90" y="357.00" text-anchor="end" class="tk">50</text>
<line x1="323.10" y1="381.50" x2="325.30" y2="381.50" stroke="#707070" stroke-width="1"/>
<text x="321.90" y="385.30" text-anchor="end" class="tk">0</text>
<line x1="330.40" y1="381.50" x2="410.30" y2="381.50" stroke="#333" stroke-width="1"/>
<line x1="330.90" y1="381.50" x2="330.90" y2="384.10" stroke="#333" stroke-width="0.9"/>
<line x1="350.62" y1="381.50" x2="350.62" y2="384.10" stroke="#333" stroke-width="0.9"/>
<line x1="370.35" y1="381.50" x2="370.35" y2="384.10" stroke="#333" stroke-width="0.9"/>
<line x1="390.07" y1="381.50" x2="390.07" y2="384.10" stroke="#333" stroke-width="0.9"/>
<line x1="409.80" y1="381.50" x2="409.80" y2="384.10" stroke="#333" stroke-width="0.9"/>
<text x="330.90" y="394.70" text-anchor="middle" class="tk">0.0</text>
<text x="350.62" y="394.70" text-anchor="middle" class="tk">0.5</text>
<text x="370.35" y="394.70" text-anchor="middle" class="tk">1.0</text>
<text x="390.07" y="394.70" text-anchor="middle" class="tk">1.5</text>
<text x="409.80" y="394.70" text-anchor="middle" class="tk">2.0</text>
<path d="M409.80,372.73 L409.80,365.65 M407.40,365.65 L412.20,365.65" stroke="#6c6c6c" stroke-width="1.0" fill="none"/>
<path d="M390.07,374.71 L390.07,370.75 M387.68,370.75 L392.47,370.75" stroke="#6c6c6c" stroke-width="1.0" fill="none"/>
<path d="M330.90,379.24 L331.90,379.15 L332.90,379.06 L333.90,378.97 L334.89,378.88 L335.89,378.79 L336.89,378.70 L337.89,378.60 L338.89,378.50 L339.89,378.40 L340.89,378.29 L341.89,378.18 L342.88,378.07 L343.88,377.95 L344.88,377.82 L345.88,377.69 L346.88,377.55 L347.88,377.41 L348.88,377.26 L349.88,377.10 L350.87,376.93 L351.87,376.75 L352.87,376.57 L353.87,376.39 L354.87,376.20 L355.87,376.00 L356.87,375.80 L357.87,375.61 L358.86,375.41 L359.86,375.22 L360.86,375.02 L361.86,374.84 L362.86,374.65 L363.86,374.48 L364.86,374.31 L365.86,374.15 L366.85,374.00 L367.85,373.86 L368.85,373.74 L369.85,373.63 L370.85,373.53 L371.85,373.45 L372.85,373.38 L373.85,373.33 L374.84,373.29 L375.84,373.27 L376.84,373.26 L377.84,373.26 L378.84,373.27 L379.84,373.30 L380.84,373.33 L381.84,373.38 L382.83,373.44 L383.83,373.51 L384.83,373.59 L385.83,373.68 L386.83,373.77 L387.83,373.88 L388.83,373.99 L389.83,374.11 L390.82,374.24 L391.82,374.37 L392.82,374.51 L393.82,374.66 L394.82,374.81 L395.82,374.97 L396.82,375.13 L397.82,375.30 L398.81,375.47 L399.81,375.65 L400.81,375.83 L401.81,376.01 L402.81,376.19 L403.81,376.38 L404.81,376.57 L405.81,376.76 L406.80,376.95 L407.80,377.15 L408.80,377.34 L409.80,377.54" fill="none" stroke="#000" stroke-width="1.45" stroke-dasharray="3.8 2.6" stroke-linejoin="round"/>
<path d="M330.90,378.67 L331.90,378.57 L332.90,378.46 L333.90,378.36 L334.89,378.26 L335.89,378.16 L336.89,378.06 L337.89,377.95 L338.89,377.85 L339.89,377.75 L340.89,377.65 L341.89,377.55 L342.88,377.45 L343.88,377.35 L344.88,377.25 L345.88,377.15 L346.88,377.05 L347.88,376.95 L348.88,376.86 L349.88,376.76 L350.87,376.67 L351.87,376.57 L352.87,376.48 L353.87,376.38 L354.87,376.29 L355.87,376.20 L356.87,376.11 L357.87,376.02 L358.86,375.93 L359.86,375.84 L360.86,375.75 L361.86,375.67 L362.86,375.58 L363.86,375.50 L364.86,375.42 L365.86,375.34 L366.85,375.26 L367.85,375.18 L368.85,375.10 L369.85,375.03 L370.85,374.95 L371.85,374.88 L372.85,374.81 L373.85,374.74 L374.84,374.68 L375.84,374.61 L376.84,374.55 L377.84,374.48 L378.84,374.42 L379.84,374.37 L380.84,374.31 L381.84,374.25 L382.83,374.20 L383.83,374.15 L384.83,374.10 L385.83,374.05 L386.83,374.00 L387.83,373.95 L388.83,373.91 L389.83,373.87 L390.82,373.83 L391.82,373.79 L392.82,373.75 L393.82,373.72 L394.82,373.69 L395.82,373.65 L396.82,373.62 L397.82,373.59 L398.81,373.56 L399.81,373.54 L400.81,373.51 L401.81,373.48 L402.81,373.46 L403.81,373.43 L404.81,373.41 L405.81,373.39 L406.80,373.36 L407.80,373.34 L408.80,373.32 L409.80,373.29" fill="none" stroke="#000" stroke-width="1.45" stroke-linejoin="round"/>
<circle cx="330.90" cy="379.24" r="2.3" fill="#000"/>
<circle cx="350.62" cy="379.80" r="2.3" fill="#000"/>
<circle cx="370.35" cy="368.20" r="2.3" fill="#000"/>
<circle cx="390.07" cy="376.97" r="2.3" fill="#000"/>
<circle cx="409.80" cy="377.82" r="2.3" fill="#000"/>
<rect x="328.70" y="375.34" width="4.4" height="4.4" fill="#000"/>
<rect x="348.43" y="376.47" width="4.4" height="4.4" fill="#000"/>
<rect x="368.15" y="368.55" width="4.4" height="4.4" fill="#000"/>
<rect x="387.88" y="372.51" width="4.4" height="4.4" fill="#000"/>
<rect x="407.60" y="370.53" width="4.4" height="4.4" fill="#000"/>
<line x1="452.60" y1="324.40" x2="452.60" y2="382.00" stroke="#707070" stroke-width="1.6"/>
<line x1="450.40" y1="324.90" x2="452.60" y2="324.90" stroke="#707070" stroke-width="1"/>
<text x="449.20" y="328.70" text-anchor="end" class="tk">100</text>
<line x1="450.40" y1="353.20" x2="452.60" y2="353.20" stroke="#707070" stroke-width="1"/>
<text x="449.20" y="357.00" text-anchor="end" class="tk">50</text>
<line x1="450.40" y1="381.50" x2="452.60" y2="381.50" stroke="#707070" stroke-width="1"/>
<text x="449.20" y="385.30" text-anchor="end" class="tk">0</text>
<line x1="457.50" y1="381.50" x2="537.20" y2="381.50" stroke="#333" stroke-width="1"/>
<line x1="458.00" y1="381.50" x2="458.00" y2="384.10" stroke="#333" stroke-width="0.9"/>
<line x1="477.68" y1="381.50" x2="477.68" y2="384.10" stroke="#333" stroke-width="0.9"/>
<line x1="497.35" y1="381.50" x2="497.35" y2="384.10" stroke="#333" stroke-width="0.9"/>
<line x1="517.03" y1="381.50" x2="517.03" y2="384.10" stroke="#333" stroke-width="0.9"/>
<line x1="536.70" y1="381.50" x2="536.70" y2="384.10" stroke="#333" stroke-width="0.9"/>
<text x="458.00" y="394.70" text-anchor="middle" class="tk">0.0</text>
<text x="477.68" y="394.70" text-anchor="middle" class="tk">0.5</text>
<text x="497.35" y="394.70" text-anchor="middle" class="tk">1.0</text>
<text x="517.03" y="394.70" text-anchor="middle" class="tk">1.5</text>
<text x="536.70" y="394.70" text-anchor="middle" class="tk">2.0</text>
<path d="M536.70,367.35 L536.70,373.58 M534.30,373.58 L539.10,373.58" stroke="#6c6c6c" stroke-width="1.0" fill="none"/>
<path d="M477.68,378.10 L477.68,381.22 M475.28,381.22 L480.07,381.22" stroke="#6c6c6c" stroke-width="1.0" fill="none"/>
<path d="M458.00,379.80 L459.00,379.68 L459.99,379.55 L460.99,379.42 L461.98,379.27 L462.98,379.09 L463.98,378.90 L464.97,378.67 L465.97,378.41 L466.97,378.10 L467.96,377.75 L468.96,377.35 L469.95,376.90 L470.95,376.39 L471.95,375.81 L472.94,375.18 L473.94,374.48 L474.94,373.72 L475.93,372.90 L476.93,372.02 L477.92,371.07 L478.92,370.06 L479.92,369.01 L480.91,367.91 L481.91,366.79 L482.91,365.66 L483.90,364.52 L484.90,363.39 L485.89,362.28 L486.89,361.21 L487.89,360.18 L488.88,359.19 L489.88,358.26 L490.87,357.37 L491.87,356.53 L492.87,355.73 L493.86,354.98 L494.86,354.26 L495.86,353.58 L496.85,352.94 L497.85,352.34 L498.84,351.76 L499.84,351.22 L500.84,350.71 L501.83,350.23 L502.83,349.78 L503.83,349.35 L504.82,348.94 L505.82,348.56 L506.81,348.19 L507.81,347.85 L508.81,347.52 L509.80,347.21 L510.80,346.92 L511.79,346.63 L512.79,346.36 L513.79,346.09 L514.78,345.84 L515.78,345.58 L516.78,345.34 L517.77,345.09 L518.77,344.85 L519.76,344.61 L520.76,344.37 L521.76,344.14 L522.75,343.90 L523.75,343.67 L524.75,343.44 L525.74,343.21 L526.74,342.98 L527.73,342.76 L528.73,342.53 L529.73,342.31 L530.72,342.08 L531.72,341.86 L532.72,341.64 L533.71,341.41 L534.71,341.19 L535.70,340.97 L536.70,340.75" fill="none" stroke="#000" stroke-width="1.45" stroke-dasharray="3.8 2.6" stroke-linejoin="round"/>
<path d="M458.00,379.24 L459.00,379.06 L459.99,378.89 L460.99,378.72 L461.98,378.55 L462.98,378.38 L463.98,378.20 L464.97,378.03 L465.97,377.86 L466.97,377.69 L467.96,377.52 L468.96,377.34 L469.95,377.17 L470.95,377.00 L471.95,376.83 L472.94,376.66 L473.94,376.48 L474.94,376.31 L475.93,376.14 L476.93,375.97 L477.92,375.80 L478.92,375.63 L479.92,375.45 L480.91,375.28 L481.91,375.11 L482.91,374.94 L483.90,374.77 L484.90,374.59 L485.89,374.42 L486.89,374.25 L487.89,374.08 L488.88,373.91 L489.88,373.73 L490.87,373.56 L491.87,373.39 L492.87,373.22 L493.86,373.05 L494.86,372.87 L495.86,372.70 L496.85,372.53 L497.85,372.36 L498.84,372.19 L499.84,372.01 L500.84,371.84 L501.83,371.67 L502.83,371.50 L503.83,371.33 L504.82,371.15 L505.82,370.98 L506.81,370.81 L507.81,370.64 L508.81,370.47 L509.80,370.29 L510.80,370.12 L511.79,369.95 L512.79,369.78 L513.79,369.61 L514.78,369.43 L515.78,369.26 L516.78,369.09 L517.77,368.92 L518.77,368.75 L519.76,368.58 L520.76,368.40 L521.76,368.23 L522.75,368.06 L523.75,367.89 L524.75,367.72 L525.74,367.54 L526.74,367.37 L527.73,367.20 L528.73,367.03 L529.73,366.86 L530.72,366.68 L531.72,366.51 L532.72,366.34 L533.71,366.17 L534.71,366.00 L535.70,365.82 L536.70,365.65" fill="none" stroke="#000" stroke-width="1.45" stroke-linejoin="round"/>
<circle cx="458.00" cy="375.84" r="2.3" fill="#000"/>
<circle cx="477.68" cy="376.97" r="2.3" fill="#000"/>
<circle cx="497.35" cy="342.16" r="2.3" fill="#000"/>
<circle cx="517.03" cy="345.56" r="2.3" fill="#000"/>
<circle cx="536.70" cy="348.67" r="2.3" fill="#000"/>
<rect x="455.80" y="375.90" width="4.4" height="4.4" fill="#000"/>
<rect x="475.48" y="375.90" width="4.4" height="4.4" fill="#000"/>
<rect x="495.85" y="369.81" width="3.0" height="3.0" fill="#000"/>
<rect x="515.03" y="365.92" width="4.0" height="4.0" fill="#000"/>
<rect x="534.70" y="365.35" width="4.0" height="4.0" fill="#000"/>
<text x="497.35" y="340.28" text-anchor="middle" font-size="22" font-weight="bold">*</text>
<text x="517.03" y="340.28" text-anchor="middle" font-size="22" font-weight="bold">*</text>
<text x="537.2" y="341.68" text-anchor="middle" font-size="22" font-weight="bold">*</text>
<line x1="78.80" y1="473.60" x2="78.80" y2="531.00" stroke="#707070" stroke-width="1.6"/>
<line x1="76.60" y1="474.10" x2="78.80" y2="474.10" stroke="#707070" stroke-width="1"/>
<text x="75.40" y="477.90" text-anchor="end" class="tk">100</text>
<line x1="76.60" y1="502.30" x2="78.80" y2="502.30" stroke="#707070" stroke-width="1"/>
<text x="75.40" y="506.10" text-anchor="end" class="tk">50</text>
<line x1="76.60" y1="530.50" x2="78.80" y2="530.50" stroke="#707070" stroke-width="1"/>
<text x="75.40" y="534.30" text-anchor="end" class="tk">0</text>
<line x1="83.90" y1="530.50" x2="164.00" y2="530.50" stroke="#333" stroke-width="1"/>
<line x1="84.40" y1="530.50" x2="84.40" y2="533.10" stroke="#333" stroke-width="0.9"/>
<line x1="104.18" y1="530.50" x2="104.18" y2="533.10" stroke="#333" stroke-width="0.9"/>
<line x1="123.95" y1="530.50" x2="123.95" y2="533.10" stroke="#333" stroke-width="0.9"/>
<line x1="143.72" y1="530.50" x2="143.72" y2="533.10" stroke="#333" stroke-width="0.9"/>
<line x1="163.50" y1="530.50" x2="163.50" y2="533.10" stroke="#333" stroke-width="0.9"/>
<text x="84.40" y="543.90" text-anchor="middle" class="tk">0.0</text>
<text x="104.18" y="543.90" text-anchor="middle" class="tk">0.5</text>
<text x="123.95" y="543.90" text-anchor="middle" class="tk">1.0</text>
<text x="143.72" y="543.90" text-anchor="middle" class="tk">1.5</text>
<text x="163.50" y="543.90" text-anchor="middle" class="tk">2.0</text>
<path d="M143.72,486.23 L143.72,478.33 M141.32,478.33 L146.12,478.33" stroke="#6c6c6c" stroke-width="1.0" fill="none"/>
<path d="M123.95,518.66 L123.95,522.32 M121.55,522.32 L126.35,522.32" stroke="#6c6c6c" stroke-width="1.0" fill="none"/>
<path d="M84.40,525.14 L85.40,525.14 L86.40,525.14 L87.40,525.14 L88.41,525.14 L89.41,525.14 L90.41,525.14 L91.41,525.14 L92.41,525.14 L93.41,525.14 L94.41,525.14 L95.41,525.14 L96.42,525.14 L97.42,525.14 L98.42,525.14 L99.42,525.14 L100.42,525.13 L101.42,525.13 L102.42,525.12 L103.42,525.10 L104.43,525.09 L105.43,525.06 L106.43,525.03 L107.43,524.98 L108.43,524.93 L109.43,524.85 L110.43,524.75 L111.43,524.62 L112.44,524.46 L113.44,524.26 L114.44,524.01 L115.44,523.70 L116.44,523.33 L117.44,522.88 L118.44,522.34 L119.44,521.71 L120.45,520.96 L121.45,520.10 L122.45,519.12 L123.45,518.00 L124.45,516.75 L125.45,515.37 L126.45,513.85 L127.45,512.22 L128.46,510.48 L129.46,508.65 L130.46,506.75 L131.46,504.80 L132.46,502.82 L133.46,500.85 L134.46,498.89 L135.46,496.98 L136.47,495.14 L137.47,493.37 L138.47,491.68 L139.47,490.10 L140.47,488.62 L141.47,487.24 L142.47,485.97 L143.47,484.80 L144.48,483.73 L145.48,482.75 L146.48,481.86 L147.48,481.06 L148.48,480.33 L149.48,479.68 L150.48,479.08 L151.48,478.55 L152.49,478.07 L153.49,477.63 L154.49,477.25 L155.49,476.90 L156.49,476.58 L157.49,476.30 L158.49,476.04 L159.49,475.81 L160.50,475.61 L161.50,475.42 L162.50,475.25 L163.50,475.10" fill="none" stroke="#000" stroke-width="1.45" stroke-dasharray="3.8 2.6" stroke-linejoin="round"/>
<path d="M84.40,525.14 L85.40,525.14 L86.40,525.14 L87.40,525.14 L88.41,525.14 L89.41,525.14 L90.41,525.14 L91.41,525.14 L92.41,525.14 L93.41,525.14 L94.41,525.14 L95.41,525.14 L96.42,525.14 L97.42,525.14 L98.42,525.13 L99.42,525.13 L100.42,525.12 L101.42,525.11 L102.42,525.10 L103.42,525.08 L104.43,525.06 L105.43,525.03 L106.43,524.99 L107.43,524.94 L108.43,524.87 L109.43,524.79 L110.43,524.69 L111.43,524.57 L112.44,524.42 L113.44,524.24 L114.44,524.02 L115.44,523.77 L116.44,523.47 L117.44,523.12 L118.44,522.72 L119.44,522.27 L120.45,521.75 L121.45,521.17 L122.45,520.52 L123.45,519.81 L124.45,519.04 L125.45,518.20 L126.45,517.30 L127.45,516.36 L128.46,515.36 L129.46,514.33 L130.46,513.28 L131.46,512.20 L132.46,511.12 L133.46,510.03 L134.46,508.96 L135.46,507.91 L136.47,506.88 L137.47,505.89 L138.47,504.94 L139.47,504.04 L140.47,503.17 L141.47,502.36 L142.47,501.60 L143.47,500.88 L144.48,500.22 L145.48,499.60 L146.48,499.02 L147.48,498.49 L148.48,498.00 L149.48,497.55 L150.48,497.14 L151.48,496.76 L152.49,496.41 L153.49,496.09 L154.49,495.80 L155.49,495.53 L156.49,495.28 L157.49,495.06 L158.49,494.85 L159.49,494.66 L160.50,494.49 L161.50,494.33 L162.50,494.19 L163.50,494.05" fill="none" stroke="#000" stroke-width="1.45" stroke-linejoin="round"/>
<circle cx="84.40" cy="525.42" r="2.3" fill="#000"/>
<circle cx="104.18" cy="525.42" r="2.3" fill="#000"/>
<circle cx="123.95" cy="517.81" r="2.3" fill="#000"/>
<circle cx="143.72" cy="486.23" r="2.3" fill="#000"/>
<circle cx="163.50" cy="475.51" r="2.3" fill="#000"/>
<rect x="82.20" y="521.81" width="4.4" height="4.4" fill="#000"/>
<rect x="101.98" y="522.83" width="4.4" height="4.4" fill="#000"/>
<rect x="121.75" y="516.46" width="4.4" height="4.4" fill="#000"/>
<rect x="141.53" y="497.28" width="4.4" height="4.4" fill="#000"/>
<rect x="161.30" y="491.92" width="4.4" height="4.4" fill="#000"/>
<text x="163.50" y="475.18" text-anchor="middle" font-size="22" font-weight="bold">*</text>
<line x1="202.50" y1="474.10" x2="202.50" y2="531.90" stroke="#707070" stroke-width="1.6"/>
<line x1="200.30" y1="474.60" x2="202.50" y2="474.60" stroke="#707070" stroke-width="1"/>
<text x="199.10" y="478.40" text-anchor="end" class="tk">100</text>
<line x1="200.30" y1="503.00" x2="202.50" y2="503.00" stroke="#707070" stroke-width="1"/>
<text x="199.10" y="506.80" text-anchor="end" class="tk">50</text>
<line x1="200.30" y1="531.40" x2="202.50" y2="531.40" stroke="#707070" stroke-width="1"/>
<text x="199.10" y="535.20" text-anchor="end" class="tk">0</text>
<line x1="208.30" y1="531.40" x2="287.70" y2="531.40" stroke="#333" stroke-width="1"/>
<line x1="208.80" y1="531.40" x2="208.80" y2="534.00" stroke="#333" stroke-width="0.9"/>
<line x1="228.40" y1="531.40" x2="228.40" y2="534.00" stroke="#333" stroke-width="0.9"/>
<line x1="248.00" y1="531.40" x2="248.00" y2="534.00" stroke="#333" stroke-width="0.9"/>
<line x1="267.60" y1="531.40" x2="267.60" y2="534.00" stroke="#333" stroke-width="0.9"/>
<line x1="287.20" y1="531.40" x2="287.20" y2="534.00" stroke="#333" stroke-width="0.9"/>
<text x="208.80" y="544.80" text-anchor="middle" class="tk">0.0</text>
<text x="228.40" y="544.80" text-anchor="middle" class="tk">0.5</text>
<text x="248.00" y="544.80" text-anchor="middle" class="tk">1.0</text>
<text x="267.60" y="544.80" text-anchor="middle" class="tk">1.5</text>
<text x="287.20" y="544.80" text-anchor="middle" class="tk">2.0</text>
<path d="M208.80,524.58 L209.79,524.85 L210.78,525.11 L211.78,525.37 L212.77,525.61 L213.76,525.84 L214.75,526.05 L215.75,526.24 L216.74,526.39 L217.73,526.52 L218.72,526.61 L219.72,526.67 L220.71,526.68 L221.70,526.64 L222.69,526.55 L223.69,526.41 L224.68,526.21 L225.67,525.95 L226.66,525.62 L227.66,525.22 L228.65,524.74 L229.64,524.19 L230.63,523.57 L231.63,522.87 L232.62,522.11 L233.61,521.29 L234.60,520.42 L235.59,519.49 L236.59,518.51 L237.58,517.48 L238.57,516.42 L239.56,515.32 L240.56,514.18 L241.55,513.01 L242.54,511.82 L243.53,510.61 L244.53,509.38 L245.52,508.13 L246.51,506.88 L247.50,505.62 L248.50,504.36 L249.49,503.10 L250.48,501.84 L251.47,500.59 L252.47,499.35 L253.46,498.12 L254.45,496.91 L255.44,495.72 L256.44,494.55 L257.43,493.40 L258.42,492.28 L259.41,491.19 L260.41,490.13 L261.40,489.11 L262.39,488.12 L263.38,487.18 L264.37,486.28 L265.37,485.42 L266.36,484.62 L267.35,483.87 L268.34,483.17 L269.34,482.53 L270.33,481.93 L271.32,481.39 L272.31,480.89 L273.31,480.43 L274.30,480.01 L275.29,479.63 L276.28,479.28 L277.28,478.96 L278.27,478.67 L279.26,478.41 L280.25,478.17 L281.25,477.94 L282.24,477.74 L283.23,477.55 L284.22,477.37 L285.22,477.20 L286.21,477.03 L287.20,476.87" fill="none" stroke="#000" stroke-width="1.45" stroke-dasharray="3.8 2.6" stroke-linejoin="round"/>
<path d="M208.80,525.44 L209.79,525.83 L210.78,526.21 L211.78,526.59 L212.77,526.96 L213.76,527.31 L214.75,527.65 L215.75,527.96 L216.74,528.24 L217.73,528.49 L218.72,528.70 L219.72,528.88 L220.71,529.01 L221.70,529.10 L222.69,529.13 L223.69,529.11 L224.68,529.02 L225.67,528.87 L226.66,528.63 L227.66,528.30 L228.65,527.88 L229.64,527.35 L230.63,526.73 L231.63,526.02 L232.62,525.22 L233.61,524.34 L234.60,523.38 L235.59,522.36 L236.59,521.27 L237.58,520.12 L238.57,518.92 L239.56,517.67 L240.56,516.37 L241.55,515.04 L242.54,513.68 L243.53,512.29 L244.53,510.88 L245.52,509.45 L246.51,508.01 L247.50,506.56 L248.50,505.12 L249.49,503.68 L250.48,502.24 L251.47,500.82 L252.47,499.41 L253.46,498.02 L254.45,496.65 L255.44,495.30 L256.44,493.98 L257.43,492.69 L258.42,491.43 L259.41,490.21 L260.41,489.03 L261.40,487.90 L262.39,486.81 L263.38,485.77 L264.37,484.78 L265.37,483.85 L266.36,482.98 L267.35,482.18 L268.34,481.43 L269.34,480.76 L270.33,480.14 L271.32,479.58 L272.31,479.08 L273.31,478.63 L274.30,478.22 L275.29,477.86 L276.28,477.54 L277.28,477.26 L278.27,477.01 L279.26,476.79 L280.25,476.60 L281.25,476.43 L282.24,476.28 L283.23,476.15 L284.22,476.04 L285.22,475.93 L286.21,475.83 L287.20,475.74" fill="none" stroke="#000" stroke-width="1.45" stroke-linejoin="round"/>
<circle cx="208.80" cy="525.15" r="2.3" fill="#000"/>
<circle cx="228.40" cy="523.73" r="2.3" fill="#000"/>
<circle cx="248.00" cy="508.96" r="2.3" fill="#000"/>
<circle cx="267.60" cy="480.28" r="2.3" fill="#000"/>
<circle cx="287.20" cy="477.16" r="2.3" fill="#000"/>
<rect x="206.60" y="523.80" width="4.4" height="4.4" fill="#000"/>
<rect x="226.20" y="521.82" width="4.4" height="4.4" fill="#000"/>
<rect x="245.80" y="507.62" width="4.4" height="4.4" fill="#000"/>
<rect x="245.80" y="509.89" width="4.4" height="4.4" fill="#000"/>
<rect x="265.40" y="476.38" width="4.4" height="4.4" fill="#000"/>
<rect x="265.40" y="479.22" width="4.4" height="4.4" fill="#000"/>
<rect x="285.00" y="474.96" width="4.4" height="4.4" fill="#000"/>
<line x1="325.30" y1="473.60" x2="325.30" y2="531.00" stroke="#707070" stroke-width="1.6"/>
<line x1="323.10" y1="474.10" x2="325.30" y2="474.10" stroke="#707070" stroke-width="1"/>
<text x="321.90" y="477.90" text-anchor="end" class="tk">100</text>
<line x1="323.10" y1="502.30" x2="325.30" y2="502.30" stroke="#707070" stroke-width="1"/>
<text x="321.90" y="506.10" text-anchor="end" class="tk">50</text>
<line x1="323.10" y1="530.50" x2="325.30" y2="530.50" stroke="#707070" stroke-width="1"/>
<text x="321.90" y="534.30" text-anchor="end" class="tk">0</text>
<line x1="330.40" y1="530.50" x2="410.30" y2="530.50" stroke="#333" stroke-width="1"/>
<line x1="330.90" y1="530.50" x2="330.90" y2="533.10" stroke="#333" stroke-width="0.9"/>
<line x1="350.62" y1="530.50" x2="350.62" y2="533.10" stroke="#333" stroke-width="0.9"/>
<line x1="370.35" y1="530.50" x2="370.35" y2="533.10" stroke="#333" stroke-width="0.9"/>
<line x1="390.07" y1="530.50" x2="390.07" y2="533.10" stroke="#333" stroke-width="0.9"/>
<line x1="409.80" y1="530.50" x2="409.80" y2="533.10" stroke="#333" stroke-width="0.9"/>
<text x="330.90" y="543.90" text-anchor="middle" class="tk">0.0</text>
<text x="350.62" y="543.90" text-anchor="middle" class="tk">0.5</text>
<text x="370.35" y="543.90" text-anchor="middle" class="tk">1.0</text>
<text x="390.07" y="543.90" text-anchor="middle" class="tk">1.5</text>
<text x="409.80" y="543.90" text-anchor="middle" class="tk">2.0</text>
<path d="M370.35,501.74 L370.35,496.66 M367.95,496.66 L372.75,496.66" stroke="#6c6c6c" stroke-width="1.0" fill="none"/>
<path d="M390.07,483.69 L390.07,477.77 M387.68,477.77 L392.47,477.77" stroke="#6c6c6c" stroke-width="1.0" fill="none"/>
<path d="M409.80,483.69 L409.80,478.33 M407.40,478.33 L412.20,478.33" stroke="#6c6c6c" stroke-width="1.0" fill="none"/>
<path d="M390.07,494.97 L390.07,509.91 M387.68,509.91 L392.47,509.91" stroke="#6c6c6c" stroke-width="1.0" fill="none"/>
<path d="M409.80,492.71 L409.80,507.66 M407.40,507.66 L412.20,507.66" stroke="#6c6c6c" stroke-width="1.0" fill="none"/>
<path d="M330.90,528.53 L331.90,528.91 L332.90,529.28 L333.90,529.64 L334.89,529.97 L335.89,530.27 L336.89,530.52 L337.89,530.73 L338.89,530.88 L339.89,530.97 L340.89,530.98 L341.89,530.91 L342.88,530.75 L343.88,530.50 L344.88,530.15 L345.88,529.71 L346.88,529.19 L347.88,528.59 L348.88,527.91 L349.88,527.16 L350.87,526.34 L351.87,525.46 L352.87,524.51 L353.87,523.50 L354.87,522.45 L355.87,521.34 L356.87,520.19 L357.87,519.00 L358.86,517.77 L359.86,516.51 L360.86,515.22 L361.86,513.91 L362.86,512.57 L363.86,511.22 L364.86,509.85 L365.86,508.48 L366.85,507.10 L367.85,505.72 L368.85,504.35 L369.85,502.98 L370.85,501.62 L371.85,500.28 L372.85,498.96 L373.85,497.66 L374.84,496.38 L375.84,495.13 L376.84,493.91 L377.84,492.72 L378.84,491.57 L379.84,490.45 L380.84,489.38 L381.84,488.36 L382.83,487.38 L383.83,486.45 L384.83,485.58 L385.83,484.76 L386.83,484.00 L387.83,483.31 L388.83,482.68 L389.83,482.12 L390.82,481.64 L391.82,481.22 L392.82,480.87 L393.82,480.59 L394.82,480.36 L395.82,480.20 L396.82,480.08 L397.82,480.03 L398.81,480.02 L399.81,480.05 L400.81,480.13 L401.81,480.24 L402.81,480.39 L403.81,480.57 L404.81,480.77 L405.81,480.99 L406.80,481.23 L407.80,481.48 L408.80,481.73 L409.80,482.00" fill="none" stroke="#000" stroke-width="1.45" stroke-dasharray="3.8 2.6" stroke-linejoin="round"/>
<path d="M330.90,525.14 L331.90,525.38 L332.90,525.61 L333.90,525.83 L334.89,526.04 L335.89,526.24 L336.89,526.41 L337.89,526.56 L338.89,526.69 L339.89,526.78 L340.89,526.84 L341.89,526.86 L342.88,526.84 L343.88,526.78 L344.88,526.69 L345.88,526.55 L346.88,526.38 L347.88,526.18 L348.88,525.93 L349.88,525.66 L350.87,525.34 L351.87,524.99 L352.87,524.61 L353.87,524.19 L354.87,523.74 L355.87,523.25 L356.87,522.74 L357.87,522.19 L358.86,521.60 L359.86,520.99 L360.86,520.34 L361.86,519.67 L362.86,518.96 L363.86,518.22 L364.86,517.46 L365.86,516.66 L366.85,515.84 L367.85,514.99 L368.85,514.11 L369.85,513.20 L370.85,512.26 L371.85,511.30 L372.85,510.33 L373.85,509.33 L374.84,508.33 L375.84,507.32 L376.84,506.31 L377.84,505.30 L378.84,504.30 L379.84,503.31 L380.84,502.34 L381.84,501.39 L382.83,500.46 L383.83,499.57 L384.83,498.71 L385.83,497.89 L386.83,497.12 L387.83,496.39 L388.83,495.72 L389.83,495.11 L390.82,494.56 L391.82,494.07 L392.82,493.64 L393.82,493.27 L394.82,492.94 L395.82,492.67 L396.82,492.44 L397.82,492.26 L398.81,492.11 L399.81,492.00 L400.81,491.92 L401.81,491.87 L402.81,491.85 L403.81,491.85 L404.81,491.87 L405.81,491.90 L406.80,491.95 L407.80,492.01 L408.80,492.08 L409.80,492.15" fill="none" stroke="#000" stroke-width="1.45" stroke-linejoin="round"/>
<circle cx="330.90" cy="526.55" r="2.3" fill="#000"/>
<circle cx="350.62" cy="526.55" r="2.3" fill="#000"/>
<circle cx="370.35" cy="501.74" r="2.3" fill="#000"/>
<circle cx="390.07" cy="483.69" r="2.3" fill="#000"/>
<circle cx="409.80" cy="483.69" r="2.3" fill="#000"/>
<rect x="328.70" y="522.38" width="4.4" height="4.4" fill="#000"/>
<rect x="348.43" y="522.77" width="4.4" height="4.4" fill="#000"/>
<rect x="368.15" y="510.53" width="4.4" height="4.4" fill="#000"/>
<rect x="387.88" y="492.77" width="4.4" height="4.4" fill="#000"/>
<rect x="407.60" y="490.51" width="4.4" height="4.4" fill="#000"/>
<line x1="452.60" y1="474.10" x2="452.60" y2="531.90" stroke="#707070" stroke-width="1.6"/>
<line x1="450.40" y1="474.60" x2="452.60" y2="474.60" stroke="#707070" stroke-width="1"/>
<text x="449.20" y="478.40" text-anchor="end" class="tk">100</text>
<line x1="450.40" y1="503.00" x2="452.60" y2="503.00" stroke="#707070" stroke-width="1"/>
<text x="449.20" y="506.80" text-anchor="end" class="tk">50</text>
<line x1="450.40" y1="531.40" x2="452.60" y2="531.40" stroke="#707070" stroke-width="1"/>
<text x="449.20" y="535.20" text-anchor="end" class="tk">0</text>
<line x1="457.50" y1="531.40" x2="537.20" y2="531.40" stroke="#333" stroke-width="1"/>
<line x1="458.00" y1="531.40" x2="458.00" y2="534.00" stroke="#333" stroke-width="0.9"/>
<line x1="477.68" y1="531.40" x2="477.68" y2="534.00" stroke="#333" stroke-width="0.9"/>
<line x1="497.35" y1="531.40" x2="497.35" y2="534.00" stroke="#333" stroke-width="0.9"/>
<line x1="517.03" y1="531.40" x2="517.03" y2="534.00" stroke="#333" stroke-width="0.9"/>
<line x1="536.70" y1="531.40" x2="536.70" y2="534.00" stroke="#333" stroke-width="0.9"/>
<text x="458.00" y="544.80" text-anchor="middle" class="tk">0.0</text>
<text x="477.68" y="544.80" text-anchor="middle" class="tk">0.5</text>
<text x="497.35" y="544.80" text-anchor="middle" class="tk">1.0</text>
<text x="517.03" y="544.80" text-anchor="middle" class="tk">1.5</text>
<text x="536.70" y="544.80" text-anchor="middle" class="tk">2.0</text>
<path d="M517.03,501.86 L517.03,497.04 M514.63,497.04 L519.43,497.04" stroke="#6c6c6c" stroke-width="1.0" fill="none"/>
<path d="M536.70,500.44 L536.70,497.60 M534.30,497.60 L539.10,497.60" stroke="#6c6c6c" stroke-width="1.0" fill="none"/>
<path d="M458.00,528.28 L459.00,528.28 L459.99,528.28 L460.99,528.27 L461.98,528.27 L462.98,528.27 L463.98,528.26 L464.97,528.25 L465.97,528.23 L466.97,528.20 L467.96,528.17 L468.96,528.12 L469.95,528.07 L470.95,528.00 L471.95,527.92 L472.94,527.82 L473.94,527.71 L474.94,527.57 L475.93,527.42 L476.93,527.24 L477.92,527.05 L478.92,526.83 L479.92,526.59 L480.91,526.33 L481.91,526.05 L482.91,525.75 L483.90,525.42 L484.90,525.08 L485.89,524.72 L486.89,524.35 L487.89,523.96 L488.88,523.56 L489.88,523.15 L490.87,522.73 L491.87,522.31 L492.87,521.88 L493.86,521.46 L494.86,521.03 L495.86,520.61 L496.85,520.19 L497.85,519.78 L498.84,519.38 L499.84,518.98 L500.84,518.60 L501.83,518.22 L502.83,517.86 L503.83,517.51 L504.82,517.18 L505.82,516.85 L506.81,516.54 L507.81,516.24 L508.81,515.95 L509.80,515.68 L510.80,515.42 L511.79,515.17 L512.79,514.93 L513.79,514.70 L514.78,514.49 L515.78,514.28 L516.78,514.09 L517.77,513.90 L518.77,513.73 L519.76,513.56 L520.76,513.40 L521.76,513.25 L522.75,513.11 L523.75,512.97 L524.75,512.85 L525.74,512.72 L526.74,512.61 L527.73,512.50 L528.73,512.39 L529.73,512.29 L530.72,512.20 L531.72,512.11 L532.72,512.03 L533.71,511.95 L534.71,511.87 L535.70,511.80 L536.70,511.73" fill="none" stroke="#000" stroke-width="1.45" stroke-dasharray="3.8 2.6" stroke-linejoin="round"/>
<path d="M458.00,527.71 L459.00,528.01 L459.99,528.31 L460.99,528.61 L461.98,528.89 L462.98,529.16 L463.98,529.41 L464.97,529.63 L465.97,529.83 L466.97,530.00 L467.96,530.13 L468.96,530.23 L469.95,530.28 L470.95,530.29 L471.95,530.25 L472.94,530.16 L473.94,530.02 L474.94,529.84 L475.93,529.61 L476.93,529.35 L477.92,529.05 L478.92,528.72 L479.92,528.36 L480.91,527.96 L481.91,527.54 L482.91,527.09 L483.90,526.61 L484.90,526.10 L485.89,525.57 L486.89,525.01 L487.89,524.43 L488.88,523.82 L489.88,523.19 L490.87,522.53 L491.87,521.85 L492.87,521.15 L493.86,520.44 L494.86,519.70 L495.86,518.94 L496.85,518.16 L497.85,517.37 L498.84,516.56 L499.84,515.74 L500.84,514.91 L501.83,514.08 L502.83,513.24 L503.83,512.40 L504.82,511.57 L505.82,510.75 L506.81,509.93 L507.81,509.13 L508.81,508.35 L509.80,507.59 L510.80,506.85 L511.79,506.14 L512.79,505.47 L513.79,504.82 L514.78,504.21 L515.78,503.65 L516.78,503.12 L517.77,502.65 L518.77,502.22 L519.76,501.83 L520.76,501.49 L521.76,501.18 L522.75,500.91 L523.75,500.67 L524.75,500.47 L525.74,500.29 L526.74,500.14 L527.73,500.02 L528.73,499.92 L529.73,499.83 L530.72,499.77 L531.72,499.72 L532.72,499.68 L533.71,499.65 L534.71,499.62 L535.70,499.61 L536.70,499.59" fill="none" stroke="#000" stroke-width="1.45" stroke-linejoin="round"/>
<circle cx="458.00" cy="527.14" r="2.3" fill="#000"/>
<circle cx="477.68" cy="526.57" r="2.3" fill="#000"/>
<circle cx="497.35" cy="518.62" r="2.3" fill="#000"/>
<circle cx="517.03" cy="512.37" r="2.3" fill="#000"/>
<circle cx="536.70" cy="510.95" r="2.3" fill="#000"/>
<rect x="455.80" y="525.22" width="4.4" height="4.4" fill="#000"/>
<rect x="475.48" y="525.51" width="4.4" height="4.4" fill="#000"/>
<rect x="495.15" y="516.42" width="4.4" height="4.4" fill="#000"/>
<rect x="514.83" y="499.66" width="4.4" height="4.4" fill="#000"/>
<rect x="534.50" y="498.24" width="4.4" height="4.4" fill="#000"/>
<line x1="78.80" y1="615.00" x2="78.80" y2="671.80" stroke="#555" stroke-width="1.0"/>
<line x1="76.60" y1="615.50" x2="78.80" y2="615.50" stroke="#555" stroke-width="1"/>
<text x="75.40" y="619.30" text-anchor="end" class="tk">100</text>
<line x1="76.60" y1="643.40" x2="78.80" y2="643.40" stroke="#555" stroke-width="1"/>
<text x="75.40" y="647.20" text-anchor="end" class="tk">50</text>
<line x1="76.60" y1="671.30" x2="78.80" y2="671.30" stroke="#555" stroke-width="1"/>
<text x="75.40" y="675.10" text-anchor="end" class="tk">0</text>
<text x="84.40" y="685.30" text-anchor="middle" class="tk">0.0</text>
<text x="104.18" y="685.30" text-anchor="middle" class="tk">0.5</text>
<text x="123.95" y="685.30" text-anchor="middle" class="tk">1.0</text>
<text x="143.72" y="685.30" text-anchor="middle" class="tk">1.5</text>
<text x="163.50" y="685.30" text-anchor="middle" class="tk">2.0</text>
<line x1="84.40" y1="671.30" x2="163.50" y2="671.30" stroke="#000" stroke-width="1.1"/>
<circle cx="163.50" cy="671.30" r="2.2" fill="#000"/>
<rect x="82.15" y="669.05" width="4.5" height="4.5" fill="#000"/>
<rect x="101.93" y="669.05" width="4.5" height="4.5" fill="#000"/>
<rect x="121.70" y="669.05" width="4.5" height="4.5" fill="#000"/>
<rect x="141.47" y="669.05" width="4.5" height="4.5" fill="#000"/>
<rect x="161.25" y="669.05" width="4.5" height="4.5" fill="#000"/>
<line x1="202.50" y1="615.00" x2="202.50" y2="671.80" stroke="#707070" stroke-width="1.6"/>
<line x1="200.30" y1="615.50" x2="202.50" y2="615.50" stroke="#707070" stroke-width="1"/>
<text x="199.10" y="619.30" text-anchor="end" class="tk">100</text>
<line x1="200.30" y1="643.40" x2="202.50" y2="643.40" stroke="#707070" stroke-width="1"/>
<text x="199.10" y="647.20" text-anchor="end" class="tk">50</text>
<line x1="200.30" y1="671.30" x2="202.50" y2="671.30" stroke="#707070" stroke-width="1"/>
<text x="199.10" y="675.10" text-anchor="end" class="tk">0</text>
<text x="208.80" y="685.30" text-anchor="middle" class="tk">0.0</text>
<text x="228.40" y="685.30" text-anchor="middle" class="tk">0.5</text>
<text x="248.00" y="685.30" text-anchor="middle" class="tk">1.0</text>
<text x="267.60" y="685.30" text-anchor="middle" class="tk">1.5</text>
<text x="287.20" y="685.30" text-anchor="middle" class="tk">2.0</text>
<line x1="208.80" y1="671.30" x2="287.20" y2="671.30" stroke="#000" stroke-width="1.1"/>
<circle cx="287.20" cy="671.30" r="2.2" fill="#000"/>
<rect x="206.55" y="669.05" width="4.5" height="4.5" fill="#000"/>
<rect x="226.15" y="669.05" width="4.5" height="4.5" fill="#000"/>
<rect x="245.75" y="669.05" width="4.5" height="4.5" fill="#000"/>
<rect x="265.35" y="669.05" width="4.5" height="4.5" fill="#000"/>
<rect x="284.95" y="669.05" width="4.5" height="4.5" fill="#000"/>
<line x1="325.30" y1="615.00" x2="325.30" y2="671.80" stroke="#555" stroke-width="1.0"/>
<line x1="323.10" y1="615.50" x2="325.30" y2="615.50" stroke="#555" stroke-width="1"/>
<text x="321.90" y="619.30" text-anchor="end" class="tk">100</text>
<line x1="323.10" y1="643.40" x2="325.30" y2="643.40" stroke="#555" stroke-width="1"/>
<text x="321.90" y="647.20" text-anchor="end" class="tk">50</text>
<line x1="323.10" y1="671.30" x2="325.30" y2="671.30" stroke="#555" stroke-width="1"/>
<text x="321.90" y="675.10" text-anchor="end" class="tk">0</text>
<text x="330.90" y="685.30" text-anchor="middle" class="tk">0.0</text>
<text x="350.62" y="685.30" text-anchor="middle" class="tk">0.5</text>
<text x="370.35" y="685.30" text-anchor="middle" class="tk">1.0</text>
<text x="390.07" y="685.30" text-anchor="middle" class="tk">1.5</text>
<text x="409.80" y="685.30" text-anchor="middle" class="tk">2.0</text>
<line x1="330.90" y1="671.30" x2="409.80" y2="671.30" stroke="#000" stroke-width="1.1"/>
<circle cx="409.80" cy="671.30" r="2.2" fill="#000"/>
<rect x="328.65" y="669.05" width="4.5" height="4.5" fill="#000"/>
<rect x="348.38" y="669.05" width="4.5" height="4.5" fill="#000"/>
<rect x="368.10" y="669.05" width="4.5" height="4.5" fill="#000"/>
<rect x="387.82" y="669.05" width="4.5" height="4.5" fill="#000"/>
<rect x="407.55" y="669.05" width="4.5" height="4.5" fill="#000"/>
<line x1="452.60" y1="615.00" x2="452.60" y2="671.80" stroke="#555" stroke-width="1.0"/>
<line x1="450.40" y1="615.50" x2="452.60" y2="615.50" stroke="#555" stroke-width="1"/>
<text x="449.20" y="619.30" text-anchor="end" class="tk">100</text>
<line x1="450.40" y1="643.40" x2="452.60" y2="643.40" stroke="#555" stroke-width="1"/>
<text x="449.20" y="647.20" text-anchor="end" class="tk">50</text>
<line x1="450.40" y1="671.30" x2="452.60" y2="671.30" stroke="#555" stroke-width="1"/>
<text x="449.20" y="675.10" text-anchor="end" class="tk">0</text>
<text x="458.00" y="685.30" text-anchor="middle" class="tk">0.0</text>
<text x="477.68" y="685.30" text-anchor="middle" class="tk">0.5</text>
<text x="497.35" y="685.30" text-anchor="middle" class="tk">1.0</text>
<text x="517.03" y="685.30" text-anchor="middle" class="tk">1.5</text>
<text x="536.70" y="685.30" text-anchor="middle" class="tk">2.0</text>
<line x1="458.00" y1="671.30" x2="536.70" y2="671.30" stroke="#000" stroke-width="1.1"/>
<circle cx="536.70" cy="671.30" r="2.2" fill="#000"/>
<rect x="455.75" y="669.05" width="4.5" height="4.5" fill="#000"/>
<rect x="475.43" y="669.05" width="4.5" height="4.5" fill="#000"/>
<rect x="495.10" y="669.05" width="4.5" height="4.5" fill="#000"/>
<rect x="514.78" y="669.05" width="4.5" height="4.5" fill="#000"/>
<rect x="534.45" y="669.05" width="4.5" height="4.5" fill="#000"/>
<rect x="78" y="693" width="464" height="3.1" fill="#000"/>
<text x="259" y="720.2" class="b22" textLength="122.5" lengthAdjust="spacingAndGlyphs">[H<tspan class="sub22" dy="4.5">2</tspan><tspan dy="-4.5">O</tspan><tspan class="sub22" dy="4.5">2</tspan><tspan dy="-4.5">] (mM)</tspan></text>
</svg>
</body></html>
